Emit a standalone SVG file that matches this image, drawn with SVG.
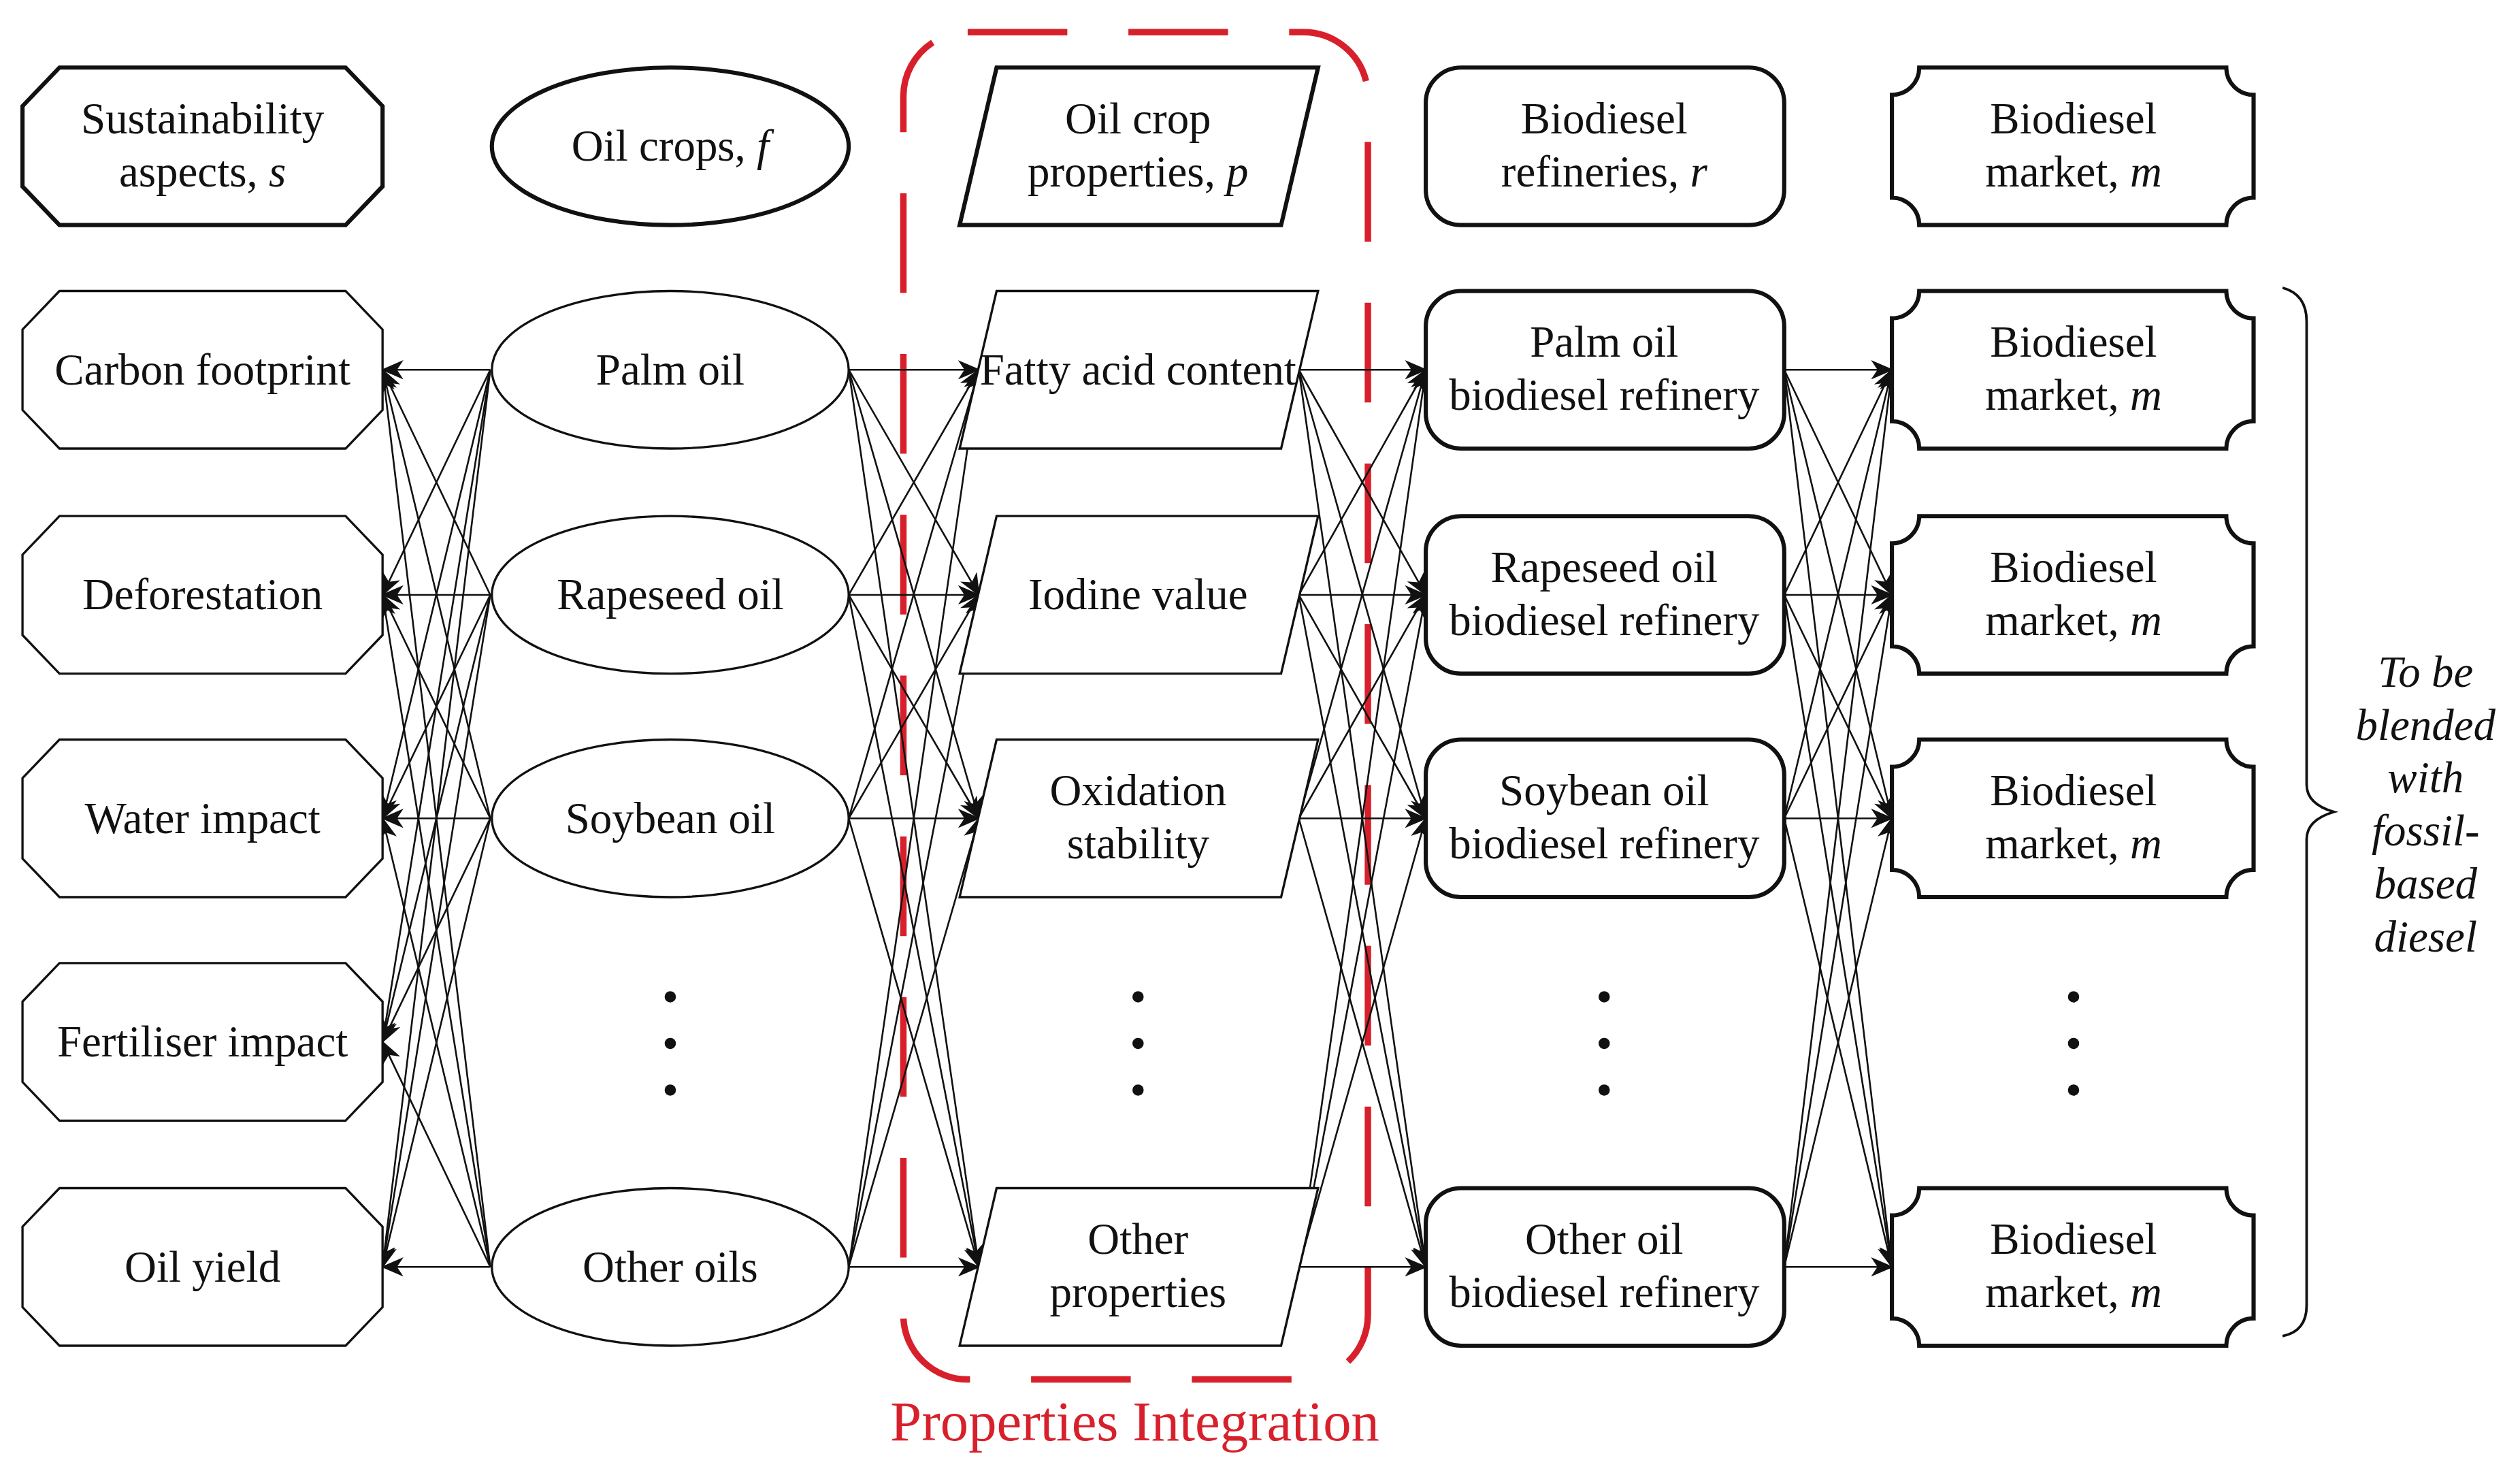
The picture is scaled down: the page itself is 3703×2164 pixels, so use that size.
<svg xmlns="http://www.w3.org/2000/svg" width="3703" height="2164" viewBox="0 0 3703 2164">
<style>
text{font-family:"Liberation Serif",serif;font-size:27.5px;fill:#111;text-anchor:middle}
.i{font-style:italic}
.n{fill:#fff;stroke:#111;stroke-width:1.4}
.t{fill:#fff;stroke:#111;stroke-width:2.6}
.c line{stroke:#111;stroke-width:1.1;marker-end:url(#ah)}
.dot{fill:#111}
</style>
<defs>
<marker id="ah" markerUnits="userSpaceOnUse" markerWidth="14" markerHeight="12" refX="13" refY="6" orient="auto"><path d="M0,0 L14,6 L0,12 L4,6 Z" fill="#111"/></marker>
<path id="oct" d="M23,0 H201 L224,24 V74 L201,98 H23 L0,74 V24 Z"/>
<path id="par" d="M23,0 H223 L200,98 H0 Z"/>
<path id="mkt" d="M17,0 H208 A17 17 0 0 0 225,17 V81 A17 17 0 0 0 208,98 H17 A17 17 0 0 0 0,81 V17 A17 17 0 0 0 17,0 Z"/>
</defs>
<rect width="3703" height="2164" fill="#fff"/>
<g transform="scale(2.362)">
<rect x="562" y="20" width="289" height="838" rx="40" fill="none" stroke="#d7202b" stroke-width="4" stroke-dasharray="62 38"/>
<text x="706" y="896" style="fill:#d7202b;font-size:35px">Properties Integration</text>

<g class="c">
<line x1="305" y1="230" x2="238" y2="230"/><line x1="305" y1="230" x2="238" y2="370"/><line x1="305" y1="230" x2="238" y2="509"/><line x1="305" y1="230" x2="238" y2="648"/><line x1="305" y1="230" x2="238" y2="788"/>
<line x1="305" y1="370" x2="238" y2="230"/><line x1="305" y1="370" x2="238" y2="370"/><line x1="305" y1="370" x2="238" y2="509"/><line x1="305" y1="370" x2="238" y2="648"/><line x1="305" y1="370" x2="238" y2="788"/>
<line x1="305" y1="509" x2="238" y2="230"/><line x1="305" y1="509" x2="238" y2="370"/><line x1="305" y1="509" x2="238" y2="509"/><line x1="305" y1="509" x2="238" y2="648"/><line x1="305" y1="509" x2="238" y2="788"/>
<line x1="305" y1="788" x2="238" y2="230"/><line x1="305" y1="788" x2="238" y2="370"/><line x1="305" y1="788" x2="238" y2="509"/><line x1="305" y1="788" x2="238" y2="648"/><line x1="305" y1="788" x2="238" y2="788"/>

<line x1="528" y1="230" x2="609" y2="230"/><line x1="528" y1="230" x2="609" y2="370"/><line x1="528" y1="230" x2="609" y2="509"/><line x1="528" y1="230" x2="609" y2="788"/>
<line x1="528" y1="370" x2="609" y2="230"/><line x1="528" y1="370" x2="609" y2="370"/><line x1="528" y1="370" x2="609" y2="509"/><line x1="528" y1="370" x2="609" y2="788"/>
<line x1="528" y1="509" x2="609" y2="230"/><line x1="528" y1="509" x2="609" y2="370"/><line x1="528" y1="509" x2="609" y2="509"/><line x1="528" y1="509" x2="609" y2="788"/>
<line x1="528" y1="788" x2="609" y2="230"/><line x1="528" y1="788" x2="609" y2="370"/><line x1="528" y1="788" x2="609" y2="509"/><line x1="528" y1="788" x2="609" y2="788"/>

<line x1="808" y1="230" x2="887" y2="230"/><line x1="808" y1="230" x2="887" y2="370"/><line x1="808" y1="230" x2="887" y2="509"/><line x1="808" y1="230" x2="887" y2="788"/>
<line x1="808" y1="370" x2="887" y2="230"/><line x1="808" y1="370" x2="887" y2="370"/><line x1="808" y1="370" x2="887" y2="509"/><line x1="808" y1="370" x2="887" y2="788"/>
<line x1="808" y1="509" x2="887" y2="230"/><line x1="808" y1="509" x2="887" y2="370"/><line x1="808" y1="509" x2="887" y2="509"/><line x1="808" y1="509" x2="887" y2="788"/>
<line x1="808" y1="788" x2="887" y2="230"/><line x1="808" y1="788" x2="887" y2="370"/><line x1="808" y1="788" x2="887" y2="509"/><line x1="808" y1="788" x2="887" y2="788"/>

<line x1="1110" y1="230" x2="1177" y2="230"/><line x1="1110" y1="230" x2="1177" y2="370"/><line x1="1110" y1="230" x2="1177" y2="509"/><line x1="1110" y1="230" x2="1177" y2="788"/>
<line x1="1110" y1="370" x2="1177" y2="230"/><line x1="1110" y1="370" x2="1177" y2="370"/><line x1="1110" y1="370" x2="1177" y2="509"/><line x1="1110" y1="370" x2="1177" y2="788"/>
<line x1="1110" y1="509" x2="1177" y2="230"/><line x1="1110" y1="509" x2="1177" y2="370"/><line x1="1110" y1="509" x2="1177" y2="509"/><line x1="1110" y1="509" x2="1177" y2="788"/>
<line x1="1110" y1="788" x2="1177" y2="230"/><line x1="1110" y1="788" x2="1177" y2="370"/><line x1="1110" y1="788" x2="1177" y2="509"/><line x1="1110" y1="788" x2="1177" y2="788"/>
</g>

<g id="h-s"><use href="#oct" x="14" y="42" class="t"/><text x="126" y="83">Sustainability</text><text x="126" y="116">aspects, <tspan class="i">s</tspan></text></g>
<g id="h-f"><ellipse cx="417" cy="91" rx="111" ry="49" class="t"/><text x="417" y="100">Oil crops, <tspan class="i">f</tspan></text></g>
<g id="h-p"><use href="#par" x="597" y="42" class="t"/><text x="708" y="83">Oil crop</text><text x="708" y="116">properties, <tspan class="i">p</tspan></text></g>
<g id="h-r"><rect x="887" y="42" width="223" height="98" rx="22" class="t"/><text x="998" y="83">Biodiesel</text><text x="998" y="116">refineries, <tspan class="i">r</tspan></text></g>
<g id="h-m"><use href="#mkt" x="1177" y="42" class="t"/><text x="1290" y="83">Biodiesel</text><text x="1290" y="116">market, <tspan class="i">m</tspan></text></g>

<g id="s1"><use href="#oct" x="14" y="181" class="n"/><text x="126" y="239">Carbon footprint</text></g>
<g id="s2"><use href="#oct" x="14" y="321" class="n"/><text x="126" y="379">Deforestation</text></g>
<g id="s3"><use href="#oct" x="14" y="460" class="n"/><text x="126" y="518">Water impact</text></g>
<g id="s4"><use href="#oct" x="14" y="599" class="n"/><text x="126" y="657">Fertiliser impact</text></g>
<g id="s5"><use href="#oct" x="14" y="739" class="n"/><text x="126" y="797">Oil yield</text></g>

<g id="f1"><ellipse cx="417" cy="230" rx="111" ry="49" class="n"/><text x="417" y="239">Palm oil</text></g>
<g id="f2"><ellipse cx="417" cy="370" rx="111" ry="49" class="n"/><text x="417" y="379">Rapeseed oil</text></g>
<g id="f3"><ellipse cx="417" cy="509" rx="111" ry="49" class="n"/><text x="417" y="518">Soybean oil</text></g>
<g id="f4"><ellipse cx="417" cy="788" rx="111" ry="49" class="n"/><text x="417" y="797">Other oils</text></g>

<g id="p1"><use href="#par" x="597" y="181" class="n"/><text x="708" y="239">Fatty acid content</text></g>
<g id="p2"><use href="#par" x="597" y="321" class="n"/><text x="708" y="379">Iodine value</text></g>
<g id="p3"><use href="#par" x="597" y="460" class="n"/><text x="708" y="501">Oxidation</text><text x="708" y="534">stability</text></g>
<g id="p4"><use href="#par" x="597" y="739" class="n"/><text x="708" y="780">Other</text><text x="708" y="813">properties</text></g>

<g id="r1"><rect x="887" y="181" width="223" height="98" rx="22" class="t"/><text x="998" y="222">Palm oil</text><text x="998" y="255">biodiesel refinery</text></g>
<g id="r2"><rect x="887" y="321" width="223" height="98" rx="22" class="t"/><text x="998" y="362">Rapeseed oil</text><text x="998" y="395">biodiesel refinery</text></g>
<g id="r3"><rect x="887" y="460" width="223" height="98" rx="22" class="t"/><text x="998" y="501">Soybean oil</text><text x="998" y="534">biodiesel refinery</text></g>
<g id="r4"><rect x="887" y="739" width="223" height="98" rx="22" class="t"/><text x="998" y="780">Other oil</text><text x="998" y="813">biodiesel refinery</text></g>

<g id="m1"><use href="#mkt" x="1177" y="181" class="t"/><text x="1290" y="222">Biodiesel</text><text x="1290" y="255">market, <tspan class="i">m</tspan></text></g>
<g id="m2"><use href="#mkt" x="1177" y="321" class="t"/><text x="1290" y="362">Biodiesel</text><text x="1290" y="395">market, <tspan class="i">m</tspan></text></g>
<g id="m3"><use href="#mkt" x="1177" y="460" class="t"/><text x="1290" y="501">Biodiesel</text><text x="1290" y="534">market, <tspan class="i">m</tspan></text></g>
<g id="m4"><use href="#mkt" x="1177" y="739" class="t"/><text x="1290" y="780">Biodiesel</text><text x="1290" y="813">market, <tspan class="i">m</tspan></text></g>

<g id="dots">
<circle cx="417" cy="620" r="3.5" class="dot"/><circle cx="417" cy="649" r="3.5" class="dot"/><circle cx="417" cy="678" r="3.5" class="dot"/>
<circle cx="708" cy="620" r="3.5" class="dot"/><circle cx="708" cy="649" r="3.5" class="dot"/><circle cx="708" cy="678" r="3.5" class="dot"/>
<circle cx="998" cy="620" r="3.5" class="dot"/><circle cx="998" cy="649" r="3.5" class="dot"/><circle cx="998" cy="678" r="3.5" class="dot"/>
<circle cx="1290" cy="620" r="3.5" class="dot"/><circle cx="1290" cy="649" r="3.5" class="dot"/><circle cx="1290" cy="678" r="3.5" class="dot"/>
</g>

<g id="brace">
<path d="M1420,179 Q1435,183 1435,200 V488 Q1435,500 1452,505 Q1435,510 1435,522 V812 Q1435,828 1420,831" fill="none" stroke="#111" stroke-width="1.6"/>
<text class="i" x="1509" y="427">To be</text><text class="i" x="1509" y="460">blended</text><text class="i" x="1509" y="493">with</text><text class="i" x="1509" y="526">fossil-</text><text class="i" x="1509" y="559">based</text><text class="i" x="1509" y="592">diesel</text>
</g>
</g>
</svg>
